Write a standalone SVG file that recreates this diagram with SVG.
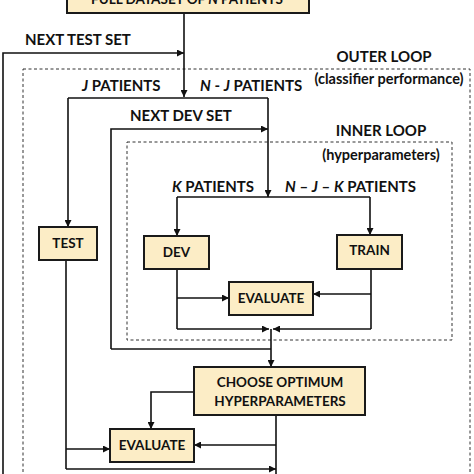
<svg xmlns="http://www.w3.org/2000/svg" width="474" height="474" viewBox="0 0 474 474">
<defs>
<marker id="ah" viewBox="0 0 10 10" refX="10" refY="5" markerWidth="7" markerHeight="7" markerUnits="userSpaceOnUse" orient="auto">
<path d="M0,0 L10,5 L0,10 z" fill="#111"/>
</marker>
</defs>
<style>
.box{fill:#fcedc6;stroke:#1a1a1a;stroke-width:2}
.t{font-family:Lato,"Open Sans",sans-serif;font-weight:bold;font-size:13.5px;fill:#111}
.l{font-family:Lato,"Open Sans",sans-serif;font-weight:bold;font-size:15px;fill:#111}
.s{font-family:Lato,"Open Sans",sans-serif;font-weight:bold;font-size:14.5px;fill:#111}
.c{fill:none;stroke:#111;stroke-width:1.6}
.a{fill:none;stroke:#111;stroke-width:1.6;marker-end:url(#ah)}
.d{fill:none;stroke:#333;stroke-width:1;stroke-dasharray:3,2.5}
</style>
<rect width="474" height="474" fill="#fff"/>
<rect class="d" x="23" y="69" width="447" height="420"/>
<rect class="d" x="127" y="142" width="325" height="198"/>
<g id="labels">
<text class="l" x="25" y="45">NEXT TEST SET</text>
<text class="l" x="384" y="62" text-anchor="middle">OUTER LOOP</text>
<text class="s" x="389" y="84" text-anchor="middle">(classifier performance)</text>
<text class="l" x="82" y="91"><tspan font-style="italic">J</tspan> PATIENTS</text>
<text class="l" x="200" y="91"><tspan font-style="italic">N</tspan> - <tspan font-style="italic">J</tspan> PATIENTS</text>
<text class="l" x="130" y="121">NEXT DEV SET</text>
<text class="l" x="381" y="136" text-anchor="middle">INNER LOOP</text>
<text class="s" x="381" y="160" text-anchor="middle">(hyperparameters)</text>
<text class="l" x="172" y="192"><tspan font-style="italic">K</tspan> PATIENTS</text>
<text class="l" x="285" y="192"><tspan font-style="italic">N</tspan> – <tspan font-style="italic">J</tspan> – <tspan font-style="italic">K</tspan> PATIENTS</text>
</g>
<g id="connectors">
<path class="a" d="M184,13 V97"/>
<path class="a" d="M3,474 V53 H184"/>
<path class="c" d="M68,98 H268"/>
<path class="a" d="M68,98 V227"/>
<path class="a" d="M268,98 V197"/>
<path class="a" d="M111,349 V129 H268"/>
<path class="c" d="M177,197 H370"/>
<path class="a" d="M177,197 V236"/>
<path class="a" d="M370,197 V235"/>
<path class="c" d="M177,269 V329"/>
<path class="a" d="M177,298 H229"/>
<path class="c" d="M371,269 V329"/>
<path class="a" d="M371,294 H313"/>
<path class="a" d="M177,329 H269"/>
<path class="a" d="M371,329 H273"/>
<path class="c" d="M111,349 H271"/>
<path class="a" d="M271,329 V367"/>
<path class="a" d="M194,392 H151 V429"/>
<path class="c" d="M276,415 V474"/>
<path class="a" d="M276,445 H194"/>
<path class="c" d="M66,260 V469"/>
<path class="a" d="M66,449 H110"/>
<path class="a" d="M66,469 H276"/>
</g>
<g id="dataset">
<rect class="box" x="67" y="-20" width="242" height="33"/>
<text class="t" x="187" y="4" text-anchor="middle" font-size="17.5">FULL DATASET OF <tspan font-style="italic">N</tspan> PATIENTS</text>
</g>
<g id="test">
<rect class="box" x="39" y="227" width="58" height="33"/>
<text class="t" x="68" y="248" text-anchor="middle">TEST</text>
</g>
<g id="dev">
<rect class="box" x="144" y="236" width="65" height="33"/>
<text class="t" x="176.5" y="257" text-anchor="middle">DEV</text>
</g>
<g id="train">
<rect class="box" x="337" y="235" width="65" height="34"/>
<text class="t" x="369.5" y="255" text-anchor="middle">TRAIN</text>
</g>
<g id="evaluate-inner">
<rect class="box" x="229" y="282" width="84" height="33"/>
<text class="t" x="271" y="303" text-anchor="middle">EVALUATE</text>
</g>
<g id="choose">
<rect class="box" x="194" y="367" width="171" height="48"/>
<text class="t" x="280" y="387" text-anchor="middle">CHOOSE OPTIMUM</text>
<text class="t" x="280" y="406" text-anchor="middle">HYPERPARAMETERS</text>
</g>
<g id="evaluate-outer">
<rect class="box" x="110" y="429" width="84" height="33"/>
<text class="t" x="152" y="450" text-anchor="middle">EVALUATE</text>
</g>
</svg>
